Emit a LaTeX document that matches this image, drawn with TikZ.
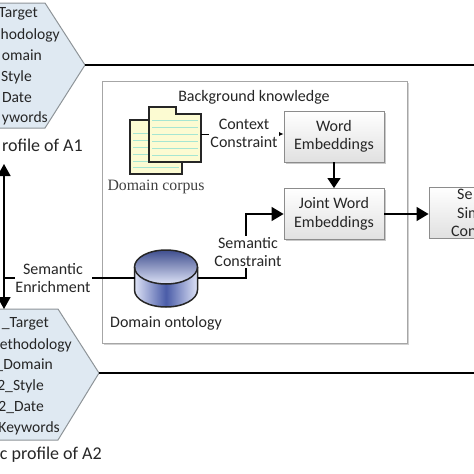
\documentclass[tikz,border=0pt]{standalone}
\usepackage{fontspec}
\setmainfont{Carlito}
\newfontfamily\serifcap{Liberation Serif}
\usetikzlibrary{arrows.meta,shadows}
\definecolor{hexfill}{HTML}{DFE9F2}
\definecolor{hexedge}{HTML}{8E9498}
\definecolor{paper}{HTML}{FCFBD2}
\definecolor{ruling}{HTML}{A6E6D2}
\definecolor{cyldark}{HTML}{4A5CA8}
\definecolor{cyllight}{HTML}{DDE2F6}
\tikzset{
  x=1pt,y=-1pt,
  lbl/.style={font=\fontsize{16}{18.5}\selectfont,text=black!85,inner sep=0pt,align=center},
  prof/.style={lbl,anchor=east,font=\fontsize{15.6}{18}\selectfont},
  profcap/.style={lbl,anchor=east,font=\fontsize{18}{20}\selectfont},
  conn/.style={draw=black,line width=1.6pt},
  big/.style={-{Triangle[length=12pt,width=14pt]}},
  box/.style={draw=black!45,line width=0.9pt,top color=white,bottom color=black!12,
    minimum width=100pt,minimum height=51pt,inner sep=0pt,align=center,
    font=\fontsize{16}{18.5}\selectfont,text=black!85,
    drop shadow={shadow xshift=1.5pt,shadow yshift=-1.5pt,fill=black!35,opacity=.6}},
  hexa/.style={draw=hexedge,line width=1pt,fill=hexfill},
  sheet/.style={draw=black!85,line width=1.2pt,fill=paper},
  rulingline/.style={draw=ruling,line width=0.9pt},
}
\begin{document}
\begin{tikzpicture}
\useasboundingbox (0,0) rectangle (474,474);
\clip (0,0) rectangle (474,474);
% profile hexagons
\draw[hexa] (-10,3) -- (45,3) -- (85,65) -- (45,128) -- (-10,128) -- cycle;
\draw[hexa] (-10,309) -- (58,309) -- (99,373) -- (58,440) -- (-10,440) -- cycle;
\coordinate (hexA) at (85,65);
\coordinate (hexB) at (99,373);
\coordinate (endA) at (474,65);
\coordinate (endB) at (474,373);
\draw[conn] (hexA) -- (endA);
\draw[conn] (hexB) -- (endB);
\node[prof] (a1) at (38,14) {Target};
\node[prof] (a2) at (60,35) {hodology};
\node[prof] (a3) at (42,55) {omain};
\node[prof] (a4) at (32,77) {Style};
\node[prof] (a5) at (32,98) {Date};
\node[prof] (a6) at (48,118) {ywords};
\node[profcap] (pa) at (83,145) {rofile of A1};
\node[prof] (b1) at (49,324) {\_Target};
\node[prof] (b2) at (72,345) {ethodology};
\node[prof] (b3) at (53,365) {\_Domain};
\node[prof] (b4) at (44,386) {2\_Style};
\node[prof] (b5) at (44,407) {2\_Date};
\node[prof] (b6) at (60,428) {Keywords};
\node[profcap] (pb) at (102,455) {c profile of A2};
% background panel
\node[draw=black!35,line width=1pt,fill=white,minimum width=305pt,minimum height=262pt,inner sep=0pt,
  drop shadow={shadow xshift=1.5pt,shadow yshift=-1.5pt,fill=black!30,opacity=.6}] (bg) at (254.5,212) {};
\node[lbl] (bgl) at (254,97) {Background knowledge};
% boxes
\node[box] (we) at (334,136.5) {Word\\Embeddings};
\node[box] (jw) at (334,214) {Joint Word\\Embeddings};
\node[draw=black!45,line width=0.9pt,top color=white,bottom color=black!12,minimum width=60pt,minimum height=51pt,inner sep=0pt] (sc) at (459,212.5) {};
\node[lbl,anchor=west] (s1) at (457,194) {Se};
\node[lbl,anchor=west] (s2) at (457,213) {Sim};
\node[lbl,anchor=west] (s3) at (451,231) {Con};
% documents
\draw[sheet] (130,120) -- (182,120) -- (182,174) -- (130,174) -- cycle;
\foreach \y in {133,140,147,154,161} \draw[rulingline] (133,\y) -- (149,\y);
\draw[rulingline] (133,167) -- (179,167);
\draw[sheet] (149,107) -- (176,107) -- (176,114) -- (201,114) -- (201,162) -- (149,162) -- cycle;
\foreach \y in {120,127,134,141,148,155} \draw[rulingline] (152,\y) -- (198,\y);
\coordinate (doc) at (201,134);
\node[font=\serifcap\fontsize{15.8}{18}\selectfont,text=black!75,inner sep=0pt] (dcl) at (156,187) {Domain corpus};
% cylinder
\shade[left color=cyllight,right color=cyllight,middle color=cyldark]
  (134.5,267) -- (134.5,290) arc[start angle=180,end angle=0,x radius=31.5,y radius=17] -- (197.5,267) -- cycle;
\shade[top color=cyldark!85!black,bottom color=cyllight] (166,267) ellipse[x radius=31.5,y radius=17];
\draw[black!85,line width=1.5pt] (166,267) ellipse[x radius=31.5,y radius=17];
\draw[black!85,line width=1.5pt] (134.5,267) -- (134.5,290) arc[start angle=180,end angle=0,x radius=31.5,y radius=17] -- (197.5,267);
\coordinate (cylL) at (134.5,278);
\coordinate (cylR) at (197.5,278);
\node[lbl] (dol) at (166,323) {Domain ontology};
% connectors
\draw[conn,line width=1pt,-{Latex[length=6pt,width=6pt]}] (doc) -- (we.west |- doc);
\node[lbl,fill=white,inner xsep=1pt] (cc) at (244,133.5) {Context\\Constraint};
\draw[conn,-{Triangle[length=10pt,width=13pt]}] (we) -- (jw);
\draw[conn,big] (jw) -- (sc.west |- jw);
\coordinate (bend) at (246,278);
\draw[conn,big] (cylR) -- (bend) |- (jw);
\node[lbl,fill=white,inner ysep=1pt] (scl) at (248,252) {Semantic\\Constraint};
\coordinate (en) at (4,278);
\draw[conn] (cylL) -- (en);
\node[lbl,fill=white,inner xsep=1pt] (sel) at (53,278) {Semantic\\Enrichment};
\coordinate (up) at (4,164);
\coordinate (dn) at (4,309);
\draw[conn,{Triangle[length=12pt,width=13pt]}-{Triangle[length=12pt,width=13pt]}] (up) -- (dn);
\end{tikzpicture}
\end{document}
